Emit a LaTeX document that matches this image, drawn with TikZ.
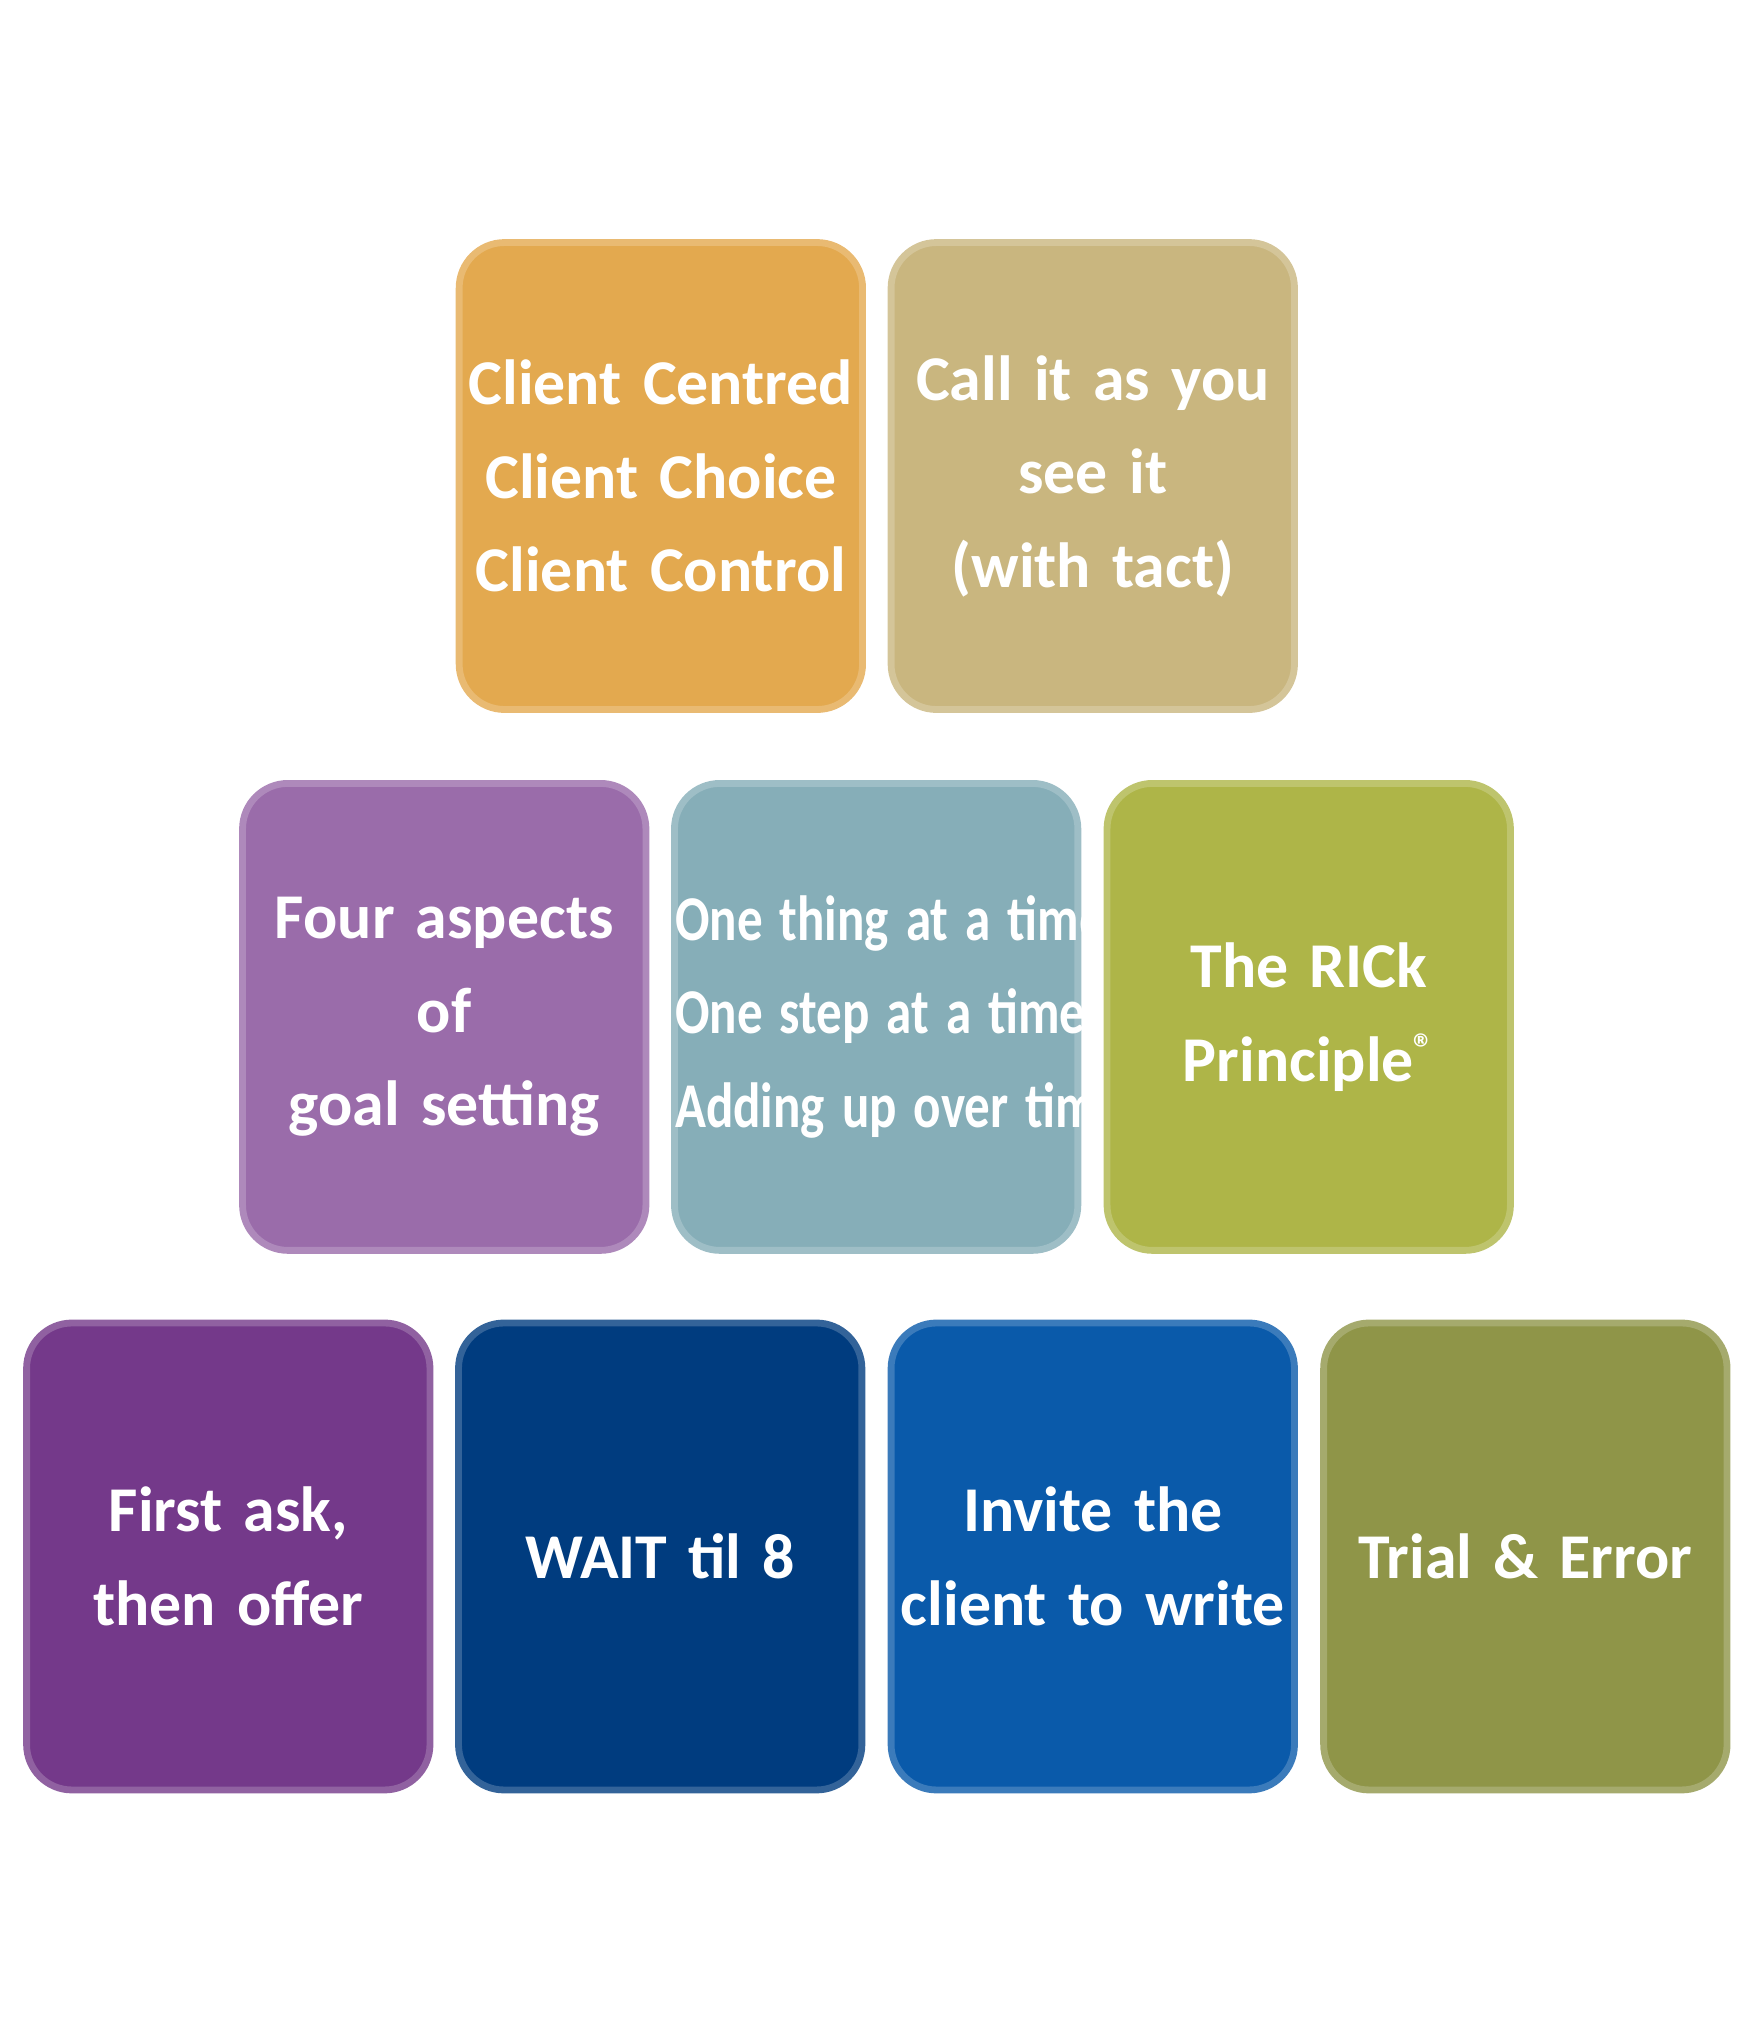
\documentclass[tikz,border=0pt]{standalone}
\usepackage{fontspec}
\setmainfont{Carlito}
\definecolor{cc}{HTML}{E3A94F}
\definecolor{cs}{HTML}{C9B67F}
\definecolor{fa}{HTML}{9A6CAA}
\definecolor{ot}{HTML}{86AEB8}
\definecolor{rp}{HTML}{AEB548}
\definecolor{fo}{HTML}{74398A}
\definecolor{wt}{HTML}{003C7F}
\definecolor{iw}{HTML}{0A5AAA}
\definecolor{te}{HTML}{8F9548}
\tikzset{
  tile/.style={rounded corners=0.35cm,minimum width=3.11cm,minimum height=3.6cm,
               fill=#1,draw=#1!80!white,line width=1.5pt,text=white,align=center,
               font=\bfseries\fontsize{14}{20.5}\selectfont,inner sep=0pt,text width=3.1cm}
}
\newcommand\narrow[1]{\scalebox{0.8}[1]{#1}}
\begin{document}
\begin{tikzpicture}
  \useasboundingbox (0,0) rectangle (13.52,-15.62);
  % TOP ROW
  \node[tile=cc] (centred) at (5.095,-3.67) {Client Centred\\Client Choice\\Client Control};
  \node[tile=cs] (callit) at (8.425,-3.67) {Call it as you\\see it\\(with tact)};
  % MIDDLE ROW
  \node[tile=fa] (aspects) at (3.425,-7.84) {Four aspects\\of\\goal setting};
  \node[tile=ot] (onething) at (6.755,-7.84)
    {\narrow{One thing at a time}\\\narrow{One step at a time}\\\narrow{Adding up over time}};
  \node[tile=rp] (rick) at (10.09,-7.84) {The RICk\\Principle\raisebox{0.6ex}{\small\textregistered}};
  % BOTTOM ROW
  \node[tile=fo] (askfirst) at (1.76,-12.0) {First ask,\\then offer};
  \node[tile=wt] (wait) at (5.09,-12.0) {WAIT til 8};
  \node[tile=iw] (invite) at (8.425,-12.0) {Invite the\\client to write};
  \node[tile=te] (trial) at (11.76,-12.0) {Trial \& Error};
\end{tikzpicture}
\end{document}
